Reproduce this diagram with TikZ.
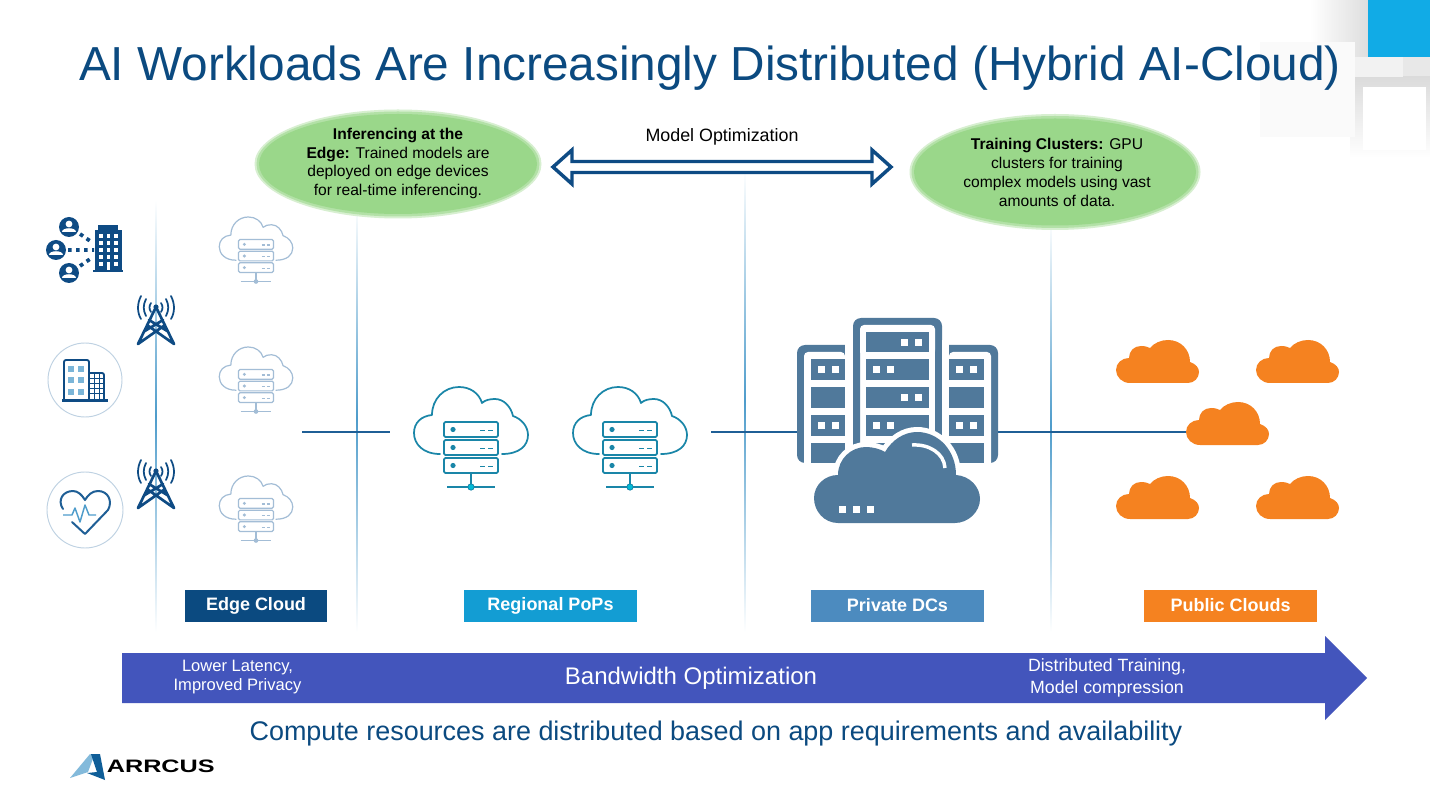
\documentclass[tikz,border=0pt]{standalone}
\usepackage{fontspec}
\setmainfont{Liberation Sans}
\usetikzlibrary{calc,shadings}
\definecolor{titleblue}{HTML}{0B4A80}
\definecolor{navy}{HTML}{0E4B84}
\definecolor{wire}{HTML}{1F5F96}
\definecolor{srvreg}{HTML}{1A86A8}
\definecolor{srvdot}{HTML}{00BCD8}
\definecolor{srvedge}{HTML}{A3BDD6}
\definecolor{rack}{HTML}{50799B}
\definecolor{orangec}{HTML}{F58220}
\definecolor{greenc}{HTML}{9AD78A}
\definecolor{bandc}{HTML}{4355BC}
\definecolor{vline}{HTML}{4E9CCB}
\definecolor{skyb}{HTML}{11ABE6}
\definecolor{tagreg}{HTML}{139DD3}
\definecolor{tagpriv}{HTML}{4C8BBF}
\newcommand{\fsz}[2]{\fontsize{#1}{#2}\selectfont}
\tikzset{
  conn/.style={draw=wire,line width=1.9pt},
  vrule/.style={top color=white,bottom color=white,middle color=vline,draw=none},
  tagbox/.style={text=white,font=\fsz{13.5}{16}\bfseries,minimum width=129.75pt,minimum height=24pt,inner sep=0pt,anchor=center},
  bandtext/.style={text=white,align=center,inner sep=0pt},
  bubtext/.style={align=center,inner sep=0pt,text=black,font=\fsz{11.7}{14.2}},
  pics/cloudsrv/.style 2 args={code={
    \draw[#1,line width=#2,line cap=round,line join=round]
      (-31,67) .. controls (-48,67) and (-57,57) .. (-57,46)
      .. controls (-57,36) and (-50,29) .. (-39,28)
      .. controls (-39,12) and (-27,0) .. (-12,0)
      .. controls (-1,0) and (8,6) .. (11,16)
      .. controls (14,13) and (19,12) .. (24,12)
      .. controls (33,12) and (40,20) .. (42,29)
      .. controls (51,32) and (57,40) .. (57,48)
      .. controls (57,59) and (48,67) .. (31,67);
    \foreach \t in {35,53,71}{
      \draw[#1,line width=#2,rounded corners=1pt] (-27,\t) rectangle (27,\t+15);
      \fill[#1] (-18,\t+7.5) circle (2.6);
      \draw[#1,line width=#2] (9,\t+8.5) -- (14,\t+8.5) (17,\t+8.5) -- (22,\t+8.5);
    }
    \draw[#1,line width=#2] (0,87) -- (0,100) (-24,100) -- (24,100);
    \fill[#1] (0,100) circle (3.6);
  }},
  pics/orcloud/.style={code={
    \fill[orangec] (14,43) .. controls (6,43) and (0,37) .. (0,30)
      .. controls (0,23) and (6,18) .. (13,18)
      .. controls (13,11) and (18,6) .. (25,6)
      .. controls (29,6) and (32,7) .. (34,8)
      .. controls (38,3) and (45,0) .. (52,0)
      .. controls (65,0) and (74,10) .. (74,22)
      .. controls (80,24) and (83,28) .. (83,32)
      .. controls (83,38) and (78,43) .. (72,43) -- cycle;
  }},
  pics/tower/.style={code={
    \draw[navy,line width=2pt,line join=round,line cap=round]
      (-18,37) -- (0,0) -- (18,37)
      (-18,37) -- (9,18) (18,37) -- (-9,18) (-12,24.5) -- (7,13) (12,24.5) -- (-7,13);
    \fill[navy] (0,0) circle (2.6);
    \draw[navy,line width=1.3pt,line cap=round]
      (-5,-4) .. controls (-7,-1) and (-7,2) .. (-5,5)
      (-10,-8) .. controls (-13,-2) and (-13,3) .. (-10,9)
      (-15,-11) .. controls (-19,-3) and (-19,5) .. (-15,12)
      (5,-4) .. controls (7,-1) and (7,2) .. (5,5)
      (10,-8) .. controls (13,-2) and (13,3) .. (10,9)
      (15,-11) .. controls (19,-3) and (19,5) .. (15,12);
  }},
  pics/person/.style={code={
    \fill[navy] (0,0) circle (10);
    \fill[white] (0,-3) circle (3.4);
    \fill[white] (-7,5.5) .. controls (-7,0.5) and (7,0.5) .. (7,5.5) -- cycle;
  }}
}
\begin{document}
\begin{tikzpicture}[x=0.75pt,y=-0.75pt]
\useasboundingbox (0,0) rectangle (1430,812);
\fill[white] (0,0) rectangle (1430,812);
% corner decoration
\shade[left color=white,right color=black!13] (1310,0) rectangle (1368,80);
\fill[black!9] (1368,0) rectangle (1430,80);
\shade[top color=black!14,bottom color=white] (1350,77) rectangle (1430,158);
\fill[black!5] (1355,57) rectangle (1403,77);
\fill[skyb] (1368,0) rectangle (1430,57);
\fill[white!98!black] (1260,42) rectangle (1355,137);
\fill[white] (1363,87) rectangle (1426,150);
% title
\node[text=titleblue,inner sep=0pt,font=\fsz{35.8}{40}] (title) at (710,68) {AI Workloads Are Increasingly Distributed (Hybrid AI-Cloud)};
% vertical guides
\shade[vrule] (155.4,200) rectangle (156.6,632);
\shade[vrule] (356.4,205) rectangle (357.6,632);
\shade[vrule] (744.4,170) rectangle (745.6,632);
\shade[vrule] (1050.4,220) rectangle (1051.6,632);
% bubbles
\fill[greenc!40!white] (398,164) ellipse (143.5 and 54.5);
\fill[greenc!75!white] (398,164) ellipse (141.5 and 52.5);
\fill[greenc] (398,164) ellipse (139 and 50);
\fill[greenc!40!white] (1055,172) ellipse (145.5 and 58);
\fill[greenc!75!white] (1055,172) ellipse (143.5 and 56);
\fill[greenc] (1055,172) ellipse (141 and 53.5);
\node[bubtext] (inf) at (398,163.5) {\textbf{Inferencing at the}\\\textbf{Edge:} Trained models are\\deployed on edge devices\\for real-time inferencing.};
\node[bubtext] (tra) at (1057,172.5) {\textbf{Training Clusters:} GPU\\clusters for training\\complex models using vast\\amounts of data.};
% model optimization arrow
\node[inner sep=0pt,font=\fsz{13.4}{15}] (mo) at (722,137) {Model Optimization};
\filldraw[fill=white,draw=navy,line width=2.6pt,line join=miter]
  (553,167) -- (572,150) -- (572,161.5) -- (872,161.5) -- (872,150) -- (891,167)
  -- (872,184) -- (872,172.5) -- (572,172.5) -- (572,184) -- cycle;
% connectors
\coordinate (e1) at (302,432); \coordinate (e2) at (390,432);
\coordinate (r1) at (711,432); \coordinate (r2) at (800,432);
\coordinate (p1) at (996,432); \coordinate (p2) at (1190,432);
\draw[conn] (e1) -- (e2);
\draw[conn] (r1) -- (r2);
\draw[conn] (p1) -- (p2);
% left icons: people + building
\draw[navy,line width=2.8pt,dash pattern=on 2.8pt off 3.2pt] (80,234) -- (93,243) (68,250) -- (94,250) (80,266) -- (93,257);
\pic at (69,227) {person}; \pic at (56,250) {person}; \pic at (69,273) {person};
\fill[navy] (98,225) rectangle (118,231);
\fill[navy] (95,230) rectangle (122,270);
\fill[navy] (93,270) rectangle (123,272.5);
\foreach \x in {99,106.5,114}\foreach \y in {234,241,248,255,262}{\fill[white] (\x,\y) rectangle (\x+3.8,\y+3.8);}
\fill[white] (106.5,262) rectangle (110.3,270);
% building circle
\draw[srvedge!70!white,line width=.7pt] (85,380) circle (37);
\draw[navy,line width=1.4pt,rounded corners=1.5pt] (64,400) -- (64,360) -- (89,360) -- (89,400);
\draw[navy,line width=1.4pt,rounded corners=1.5pt] (89,373) -- (104,373) -- (104,400);
\draw[navy,line width=1.6pt] (62,400.5) -- (108,400.5);
\foreach \x in {68,78}\foreach \y in {366,377,389}{\fill[vline!75!white] (\x,\y) rectangle (\x+6,\y+6);}
\foreach \y in {378,383,388,393}{\draw[navy,line width=.6pt] (90,\y) -- (104,\y);}
\draw[navy,line width=.6pt] (94,373) -- (94,400) (99,373) -- (99,400);
% heart circle
\draw[srvedge!70!white,line width=.7pt] (85,510) circle (38);
\draw[wire,line width=1.5pt,line cap=round,line join=round]
  (63,509) .. controls (57,500) and (63,491) .. (73,491)
  .. controls (78,491) and (82,495) .. (85,500)
  .. controls (88,495) and (92,491) .. (98,491)
  .. controls (108,491) and (113,501) .. (108,510)
  -- (85,534) -- (72,522);
\draw[vline,line width=1.1pt,line join=round] (63,515) -- (72,515) -- (75,508) -- (80,522) -- (85,505) -- (89,515) -- (96,515);
% towers
\pic at (156,307) {tower};
\pic at (156,471) {tower};
% edge clouds
\pic[scale=.645] at (256,217) {cloudsrv={srvedge}{.9pt}};
\pic[scale=.645] at (256,347) {cloudsrv={srvedge}{.9pt}};
\pic[scale=.645] at (256,476) {cloudsrv={srvedge}{.9pt}};
% regional clouds
\pic at (471,387) {cloudsrv={srvreg}{1.3pt}};
\pic at (630,387) {cloudsrv={srvreg}{1.3pt}};
\fill[srvdot] (471,487) circle (2.6);
\fill[srvdot] (630,487) circle (2.6);
% rack
\fill[rack,rounded corners=6pt] (853,318) rectangle (942,480);
\fill[white,rounded corners=3pt] (860,325) rectangle (935,490);
\fill[rack,rounded corners=6pt] (797,345) rectangle (860,463);
\fill[white] (845,340) rectangle (853,470);
\fill[white,rounded corners=3pt] (804,352) rectangle (845,470);
\fill[rack,rounded corners=6pt] (935,345) rectangle (998,463);
\fill[white] (942,340) rectangle (949,470);
\fill[white,rounded corners=3pt] (949,352) rectangle (991,470);
\foreach \t/\b in {332/352,359/380,387/408,415/436,443/470}{\fill[rack] (866,\t) rectangle (929,\b);}
\foreach \t/\b in {359/380,387/408,415/436,443/463}{
  \fill[rack] (811,\t) rectangle (845,\b);
  \fill[rack] (949,\t) rectangle (984,\b);}
\foreach \x/\y in {901/339,915/339,873/366,887/366,901/394,915/394,873/422,887/422,818/366,832/366,818/422,832/422,956/366,970/366,956/422,970/422}{
  \fill[white] (\x,\y) rectangle (\x+7,\y+7);}
% big cloud
\fill[rack,preaction={draw=white,line width=7.5pt,line join=round}]
  (838,523) .. controls (824,523) and (814,511) .. (814,498)
  .. controls (814,485) and (825,475) .. (838,475)
  .. controls (838,459) and (851,447) .. (866,447)
  .. controls (873,447) and (880,449) .. (885,452)
  .. controls (892,440) and (904,432) .. (917,432)
  .. controls (939,432) and (956,451) .. (956,475)
  .. controls (970,476) and (980,487) .. (980,499)
  .. controls (980,512) and (968,523) .. (955,523) -- cycle;
\draw[white,line width=2.6pt] (912,445) .. controls (929,444) and (944,453) .. (945,468);
\foreach \x in {839,853,867}{\fill[white] (\x,506) rectangle (\x+6.5,512.5);}
% orange clouds
\pic at (1116,340) {orcloud};
\pic at (1256,340) {orcloud};
\pic at (1186,402) {orcloud};
\pic at (1116,476) {orcloud};
\pic at (1256,476) {orcloud};
% tags
\node[tagbox,fill=titleblue,minimum width=106.5pt] (t1) at (256,605.5) {Edge Cloud};
\node[tagbox,fill=tagreg] (t2) at (550.5,605.5) {Regional PoPs};
\node[tagbox,fill=tagpriv] (t3) at (897.5,605.5) {Private DCs};
\node[tagbox,fill=orangec] (t4) at (1230.5,605.5) {Public Clouds};
% band arrow
\fill[bandc] (122,653) -- (1325,653) -- (1325,636) -- (1367,678) -- (1325,720) -- (1325,703) -- (122,703) -- cycle;
\node[bandtext,font=\fsz{12.4}{14.8}] (lat) at (237.5,677) {Lower Latency,\\Improved Privacy};
\node[bandtext,font=\fsz{18}{22}] (bw) at (691,678) {Bandwidth Optimization};
\node[bandtext,font=\fsz{13.3}{16.2}] (dist) at (1107,678) {Distributed Training,\\Model compression};
\node[text=titleblue,inner sep=0pt,font=\fsz{20.2}{24}] (cap) at (716,733.5) {Compute resources are distributed based on app requirements and availability};
% logo
\fill[vline!70!white] (70,778) -- (90,754) -- (94,756) -- (88,772) -- cycle;
\fill[navy!80!skyb] (91,754) -- (100,754) -- (105,780) -- (87,773) -- (97,772) -- cycle;
\node[inner sep=0pt,anchor=west,text=black,font=\fsz{13.5}{15}\bfseries,xscale=1.4] (logo) at (106.5,766) {ARRCUS};
\end{tikzpicture}
\end{document}
